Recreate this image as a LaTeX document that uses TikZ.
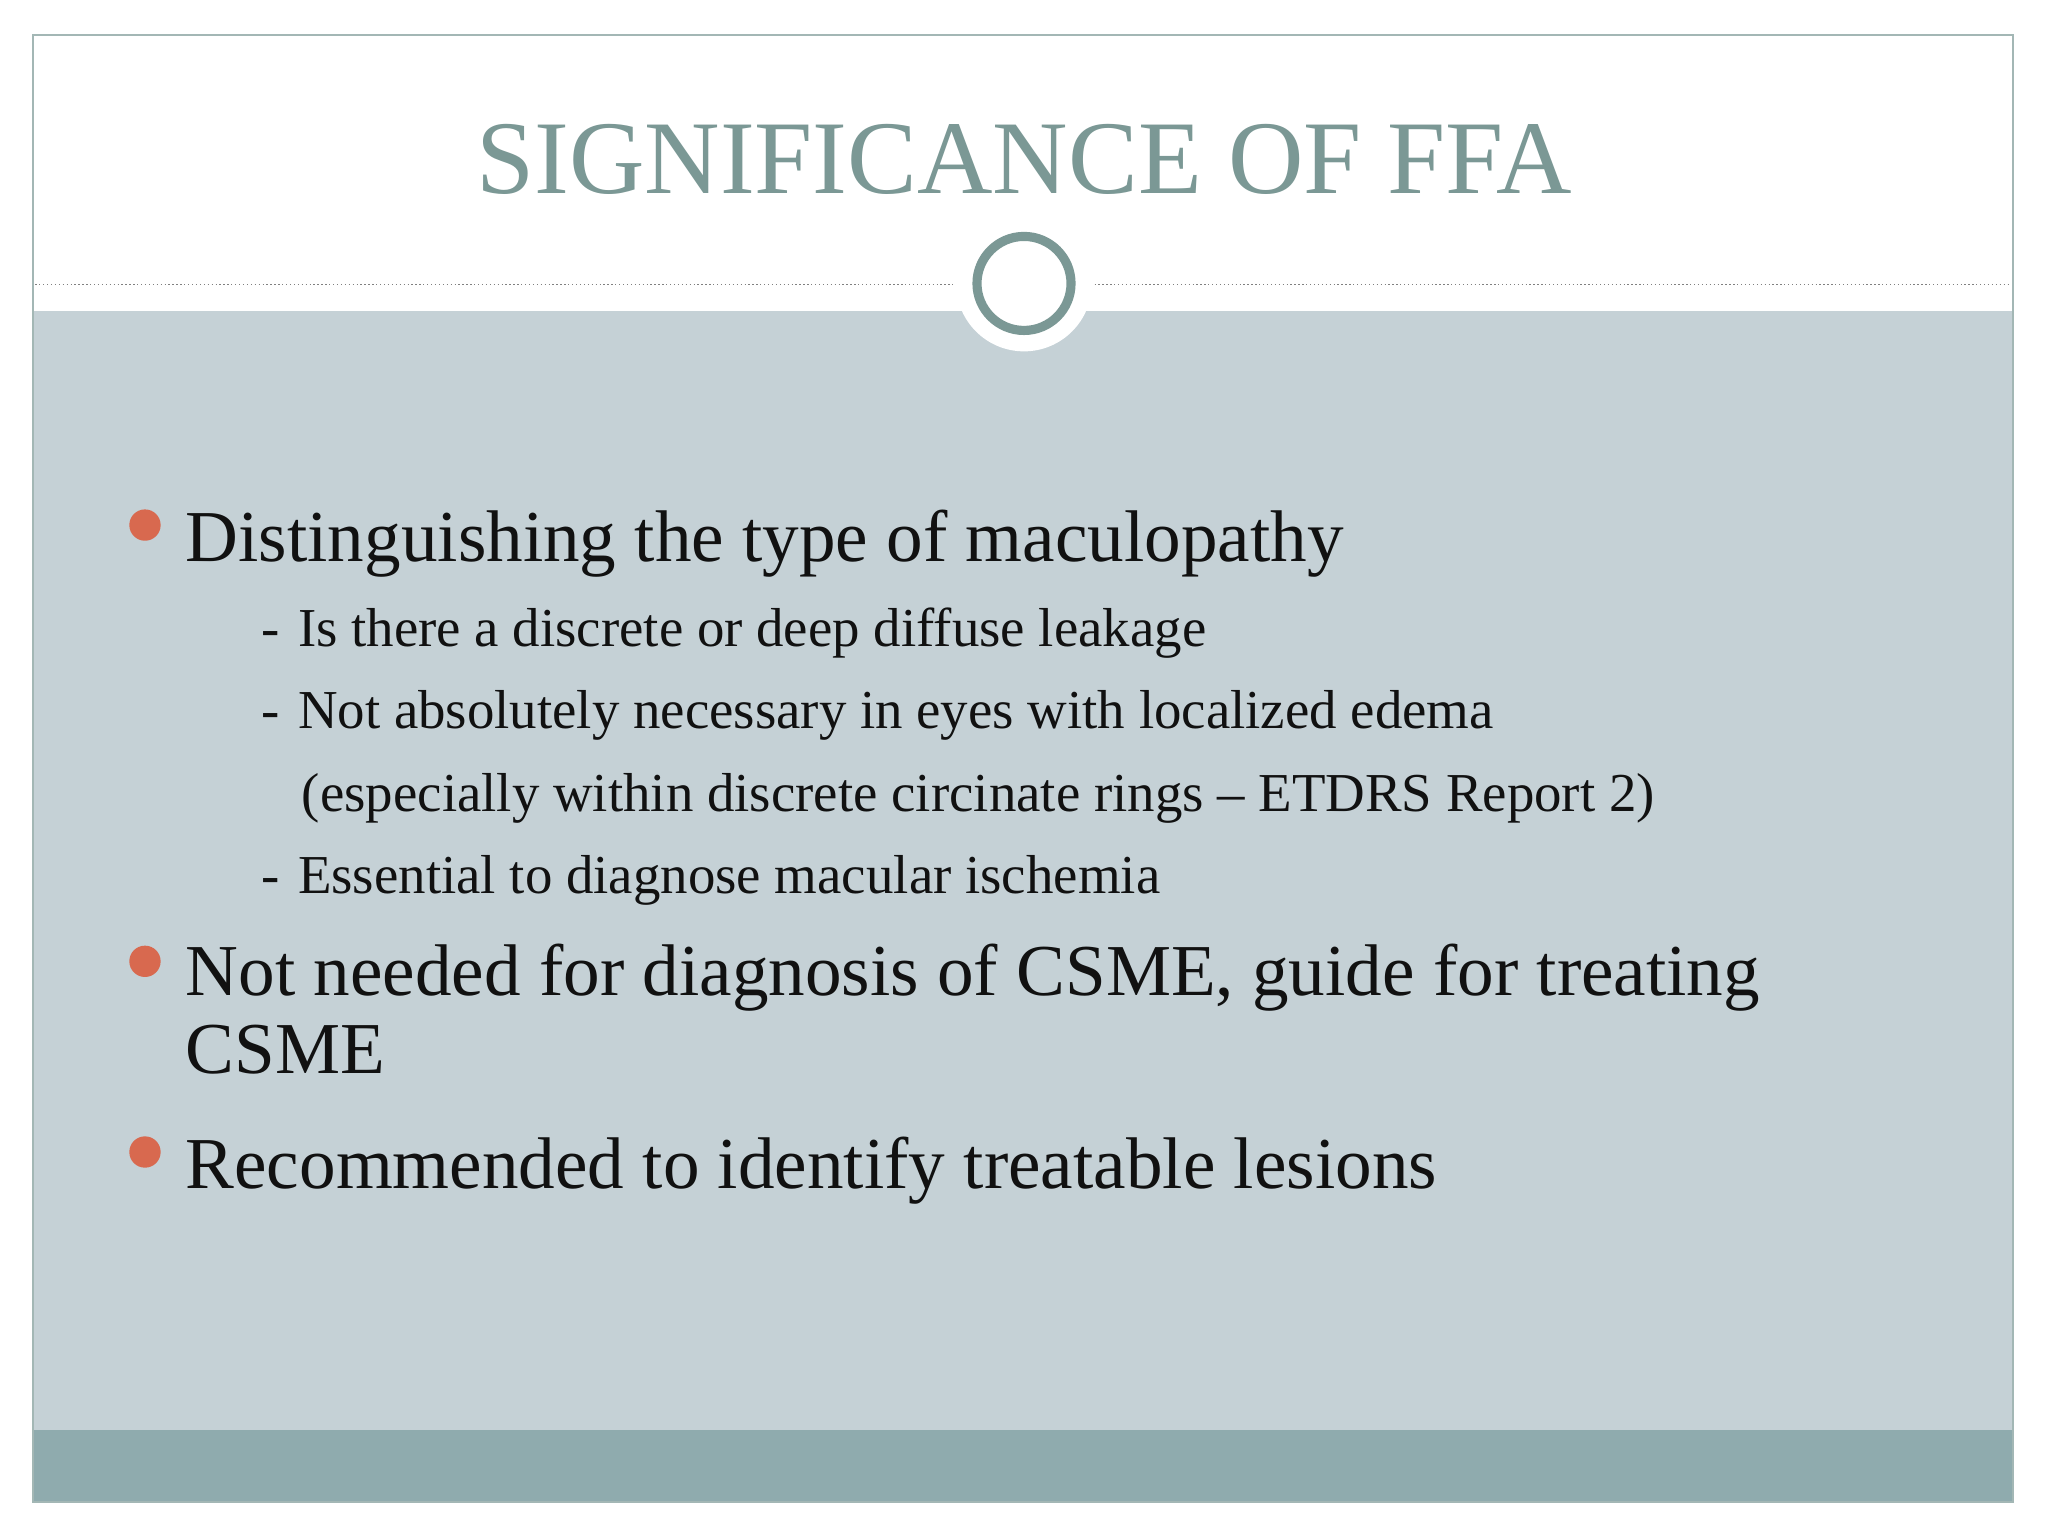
\documentclass[tikz,border=0pt]{standalone}
\usepackage{fontspec}
\setmainfont{Liberation Serif}
\definecolor{teal}{HTML}{7B9895}
\definecolor{bodybg}{HTML}{C5D1D6}
\definecolor{band}{HTML}{8FABAE}
\definecolor{bul}{HTML}{D8694F}
\definecolor{txt}{HTML}{111111}
\begin{document}
\begin{tikzpicture}[x=1pt,y=1pt,
  big/.style={anchor=base west,inner sep=0,text=txt,font=\fontsize{56}{64}\selectfont},
  small/.style={anchor=base west,inner sep=0,text=txt,font=\fontsize{42}{50}\selectfont},
  dot/.style={circle,fill=bul,minimum size=24,inner sep=0}]
\useasboundingbox (0,0) rectangle (1568,-1176);
\fill[white] (0,0) rectangle (1568,-1176);
\fill[bodybg] (25,-238) rectangle (1541,-1095);
\fill[band] (25,-1095) rectangle (1541,-1150);
\draw[teal!70,line width=1.5] (25,-27) rectangle (1541,-1150);
\draw[gray,dotted,line width=1] (27,-218) -- (730,-218);
\draw[gray,dotted,line width=1] (838,-218) -- (1538,-218);
\fill[white] (784,-217) circle (52);
\draw[teal,line width=7] (784,-217) circle (36);
\node[anchor=base,inner sep=0,text=teal,font=\fontsize{80}{90}\selectfont] (title) at (784,-148) {SIGNIFICANCE OF FFA};
\node[dot] (b1) at (111,-402) {};
\node[big] (t1) at (142,-430) {Distinguishing the type of maculopathy};
\node[small] (s1) at (200,-495) {-\hspace{14pt}Is there a discrete or deep diffuse leakage};
\node[small] (s2) at (200,-558) {-\hspace{14pt}Not absolutely necessary in eyes with localized edema};
\node[small] (s3) at (231,-621) {(especially within discrete circinate rings -- ETDRS Report 2)};
\node[small] (s4) at (200,-684) {-\hspace{14pt}Essential to diagnose macular ischemia};
\node[dot] (b2) at (111,-736) {};
\node[big] (t2) at (142,-762) {Not needed for diagnosis of CSME, guide for treating};
\node[big] (t2b) at (142,-822) {CSME};
\node[dot] (b3) at (111,-882) {};
\node[big] (t3) at (142,-910) {Recommended to identify treatable lesions};
\end{tikzpicture}
\end{document}
